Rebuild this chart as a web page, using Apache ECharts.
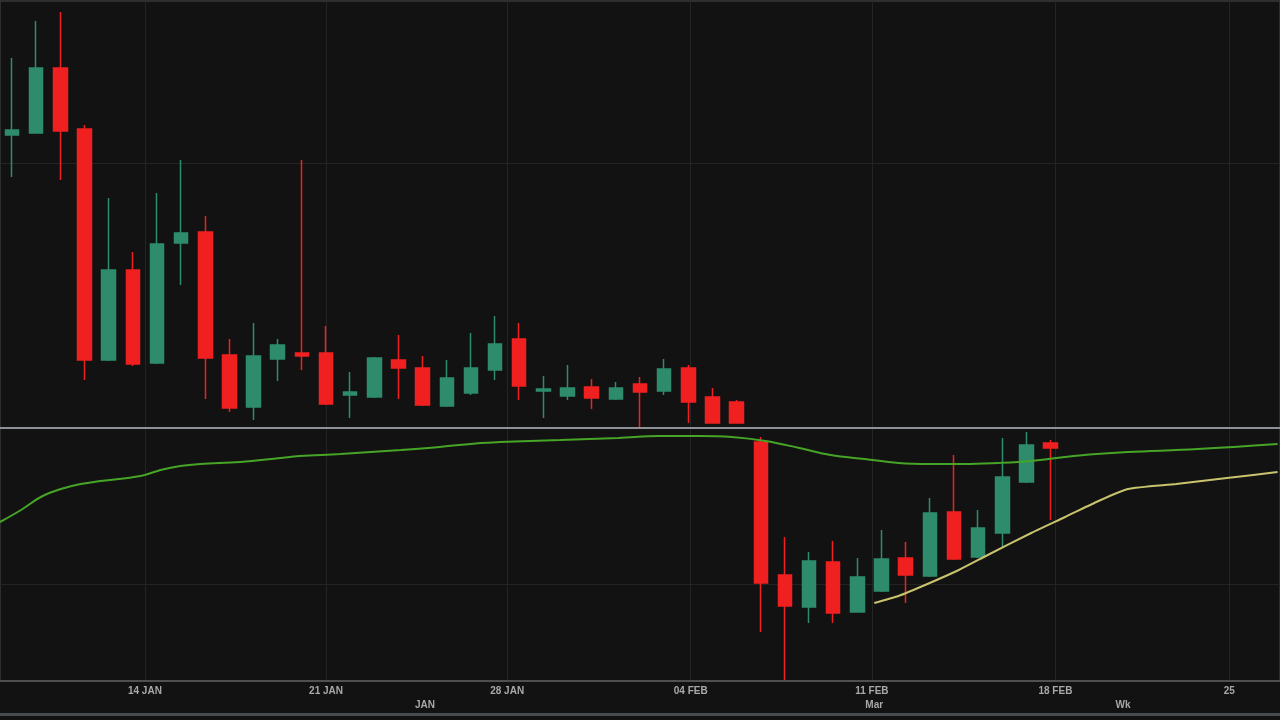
<!DOCTYPE html>
<html>
<head>
<meta charset="utf-8">
<script src="https://cdn.jsdelivr.net/npm/echarts@6/dist/echarts.min.js"></script>
<style>
html,body{margin:0;padding:0;background:#121212;}
#chart{width:1280px;height:720px;}
</style>
</head>
<body>
<div id="chart"></div>
<script>
// ---- data ----
const categories = Array.from({length: 53}, (_, i) => 'Day ' + (i + 1));

const opens  = [154.6,154.8,161.3,155.2,132.1,141.1,131.8,143.8,144.9,132.6,127.4,132.2,132.8,132.8,128.6,128.4,132.1,131.3,127.5,128.8,131.1,134.2,129.0,128.5,129.4,128.2,129.7,129.0,131.3,128.4,127.9,123.9,110.6,107.4,111.9,106.9,109.0,112.3,110.5,116.9,112.4,114.8,119.9,123.8];
const closes = [155.1,161.3,155.0,132.1,141.1,131.7,143.7,144.8,132.3,127.3,132.5,133.6,132.5,127.7,128.9,132.3,131.3,127.6,130.3,131.3,133.7,129.5,129.2,129.3,128.3,129.3,128.9,131.2,127.9,125.8,125.8,109.8,107.5,112.0,106.8,110.4,112.2,110.6,116.8,112.2,115.3,120.4,123.6,123.3];
const lows   = [150.4,154.8,150.1,130.1,132.0,131.5,131.7,139.6,128.2,126.9,126.1,130.0,131.1,127.6,126.3,128.3,128.2,127.5,127.4,128.6,130.1,128.1,126.3,128.1,127.2,128.1,125.4,128.6,125.8,125.8,125.8,104.9,100.1,105.8,105.8,106.9,108.9,107.8,110.4,112.1,112.3,113.4,119.8,116.1];
const highs  = [162.3,166.0,166.9,155.6,148.3,142.9,148.8,152.1,146.5,134.2,135.8,134.2,152.1,135.5,130.9,132.4,134.6,132.5,132.1,134.8,136.5,135.8,130.5,131.6,130.2,129.9,130.4,132.2,131.6,129.3,128.1,124.4,114.4,112.9,114.0,112.3,115.1,113.9,118.3,122.6,117.1,124.3,124.9,124.1];

// moving average (green), position in candle-index units
const maX = [-0.5,0.37,1.19,2.02,2.84,3.67,5.32,6.15,6.97,7.8,9.45,11.1,11.9,13.6,16.1,17.7,19.4,20.2,22.7,25.1,26.8,28.4,29.8,31.2,32.6,33.9,35.3,36.7,38.0,39.4,40.8,42.2,43.6,44.9,46.2,49.1,52.4];
const maY = [115.9,117.1,118.4,119.2,119.7,120.0,120.5,121.1,121.5,121.7,121.9,122.3,122.5,122.7,123.1,123.4,123.8,123.9,124.1,124.3,124.5,124.5,124.4,124.0,123.3,122.6,122.2,121.8,121.7,121.7,121.8,122.0,122.4,122.7,122.9,123.2,123.7];

// trend line (yellow)
const trendX = [35.7,36.7,37.9,39.2,40.4,42.2,43.6,44.9,46.2,48.2,50.3,52.4];
const trendY = [107.8,108.5,109.7,111.1,112.6,114.8,116.4,117.9,119.2,119.7,120.3,120.9];

// axis ticks
const gridTicks = [5.5, 13, 20.5, 28.1, 35.6, 43.2, 50.4];
const gridTickLabels = ['14 JAN', '21 JAN', '28 JAN', '04 FEB', '11 FEB', '18 FEB', '25'];
const periodTicks = [17.1, 35.7, 46.0];
const periodLabels = ['JAN', 'Mar', 'Wk'];
const hGridValues = [109.7, 151.8];
const baseLineValue = 125.3;

// ---- build ----
const candleData = opens.map((o, i) => [o, closes[i], lows[i], highs[i]]);
const maData = maX.map((x, i) => [x, maY[i]]);
const trendData = trendX.map((x, i) => [x, trendY[i]]);

const GREEN = '#2e8c6c';
const RED = '#f02020';

const chart = echarts.init(document.getElementById('chart'));
chart.setOption({
  backgroundColor: '#121212',
  animation: false,
  grid: {
    left: -2, right: -5, top: 1, bottom: 39,
    show: true, borderColor: '#4a4a4a', borderWidth: 1, backgroundColor: 'transparent'
  },
  xAxis: [
    { type: 'category', data: categories, show: false, boundaryGap: true },
    {
      type: 'value', min: -0.5, max: 52.5, position: 'bottom',
      axisLine: { show: true, lineStyle: { color: '#505050', width: 2 } },
      axisTick: { show: false, customValues: gridTicks },
      axisLabel: {
        customValues: gridTicks,
        formatter: v => { const k = gridTicks.indexOf(v); return k >= 0 ? gridTickLabels[k] : ''; },
        color: '#a8a8a8', fontSize: 10, fontWeight: 'bold', margin: 5,
        fontFamily: 'Liberation Sans'
      },
      splitLine: { show: true, lineStyle: { color: '#242424', width: 1 } }
    },
    {
      type: 'value', min: -0.5, max: 52.5, position: 'bottom', offset: 33,
      axisLine: { show: true, lineStyle: { color: '#464b50', width: 3 } },
      axisTick: { show: false, customValues: periodTicks },
      axisLabel: {
        inside: true, customValues: periodTicks,
        formatter: v => { const k = periodTicks.indexOf(v); return k >= 0 ? periodLabels[k] : ''; },
        color: '#a8a8a8', fontSize: 10, fontWeight: 'bold', margin: 4,
        fontFamily: 'Liberation Sans'
      },
      splitLine: { show: false }
    }
  ],
  yAxis: {
    type: 'value', min: 100, max: 168,
    axisLine: { show: false }, axisLabel: { show: false },
    axisTick: { show: false, customValues: hGridValues },
    splitLine: { show: true, lineStyle: { color: '#232323', width: 1 } }
  },
  series: [
    {
      type: 'candlestick',
      xAxisIndex: 0, yAxisIndex: 0,
      data: candleData,
      barWidth: 14,
      itemStyle: { color: GREEN, color0: RED, borderColor: GREEN, borderColor0: RED, borderWidth: 1.5 },
      markLine: {
        silent: true, symbol: 'none', label: { show: false },
        lineStyle: { color: '#8e9296', width: 2, type: 'solid' },
        data: [{ yAxis: baseLineValue }]
      }
    },
    {
      type: 'line', xAxisIndex: 1, yAxisIndex: 0,
      data: maData, smooth: 0.4, symbol: 'none',
      lineStyle: { color: '#46a527', width: 2 }
    },
    {
      type: 'line', xAxisIndex: 1, yAxisIndex: 0,
      data: trendData, smooth: 0.2, symbol: 'none',
      lineStyle: { color: '#c8c36c', width: 2 }
    }
  ]
});
</script>
</body>
</html>
